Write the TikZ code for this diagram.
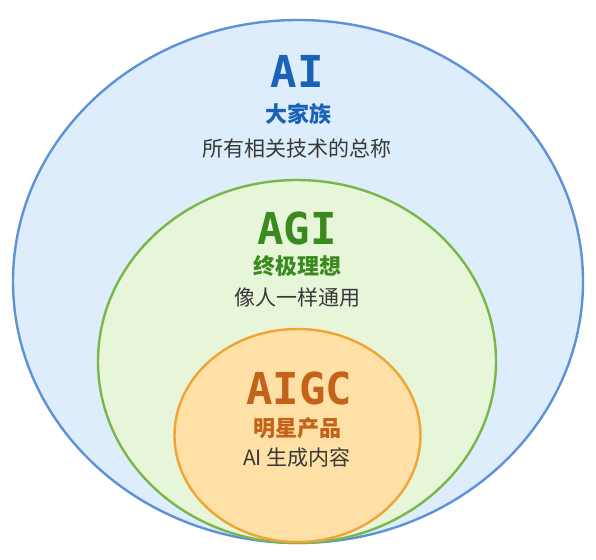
\documentclass[tikz,border=0pt]{standalone}
\usepackage{fontspec}
\setmainfont{Noto Sans CJK SC}
\newfontfamily\cjk{Noto Sans CJK SC}
\newfontfamily\titlefont{DejaVu Sans Mono}
\usetikzlibrary{shapes.geometric}
\definecolor{aifill}{HTML}{DDEDFB}
\definecolor{ailine}{HTML}{5E92D8}
\definecolor{agifill}{HTML}{E7F6D9}
\definecolor{agiline}{HTML}{7AB648}
\definecolor{aigcfill}{HTML}{FFE0A6}
\definecolor{aigcline}{HTML}{F0A435}
\definecolor{aitext}{HTML}{1A62B8}
\definecolor{agitext}{HTML}{3B8A20}
\definecolor{aigctext}{HTML}{C4621C}
\definecolor{desctext}{HTML}{383838}
\tikzset{
  ring/.style={ellipse, inner sep=0pt, outer sep=0pt, line width=2.4pt},
  bigtitle/.style={inner sep=0pt, font=\titlefont\bfseries\fontsize{44}{44}\selectfont},
  subtitle/.style={inner sep=0pt, font=\cjk\bfseries\fontsize{22}{22}\selectfont},
  desc/.style={inner sep=0pt, text=desctext, font=\cjk\fontsize{21}{21}\selectfont},
}
\begin{document}
\begin{tikzpicture}[x=1pt,y=-1pt]
\fill[white] (0,0) rectangle (596,559);
\useasboundingbox (0,0) rectangle (596,559);
\node[ring, draw=ailine, fill=aifill, minimum width=570pt, minimum height=523pt] (ai) at (298,281.5) {};
\node[ring, draw=agiline, fill=agifill, minimum width=398pt, minimum height=363pt] (agi) at (297,361.5) {};
\node[ring, draw=aigcline, fill=aigcfill, minimum width=246pt, minimum height=213pt] (aigc) at (297.5,435.5) {};
\node[bigtitle, text=aitext] (aiT) at (297,71) {AI};
\node[subtitle, text=aitext] (aiS) at (298,114) {大家族};
\node[desc] (aiD) at (297,148) {所有相关技术的总称};
\node[bigtitle, text=agitext] (agiT) at (297,228) {AGI};
\node[subtitle, text=agitext] (agiS) at (297,266) {终极理想};
\node[desc] (agiD) at (297,298) {像人一样通用};
\node[bigtitle, text=aigctext] (aigcT) at (299,388) {AIGC};
\node[subtitle, text=aigctext] (aigcS) at (297,428) {明星产品};
\node[desc] (aigcD) at (297,458) {AI 生成内容};
\end{tikzpicture}
\end{document}
